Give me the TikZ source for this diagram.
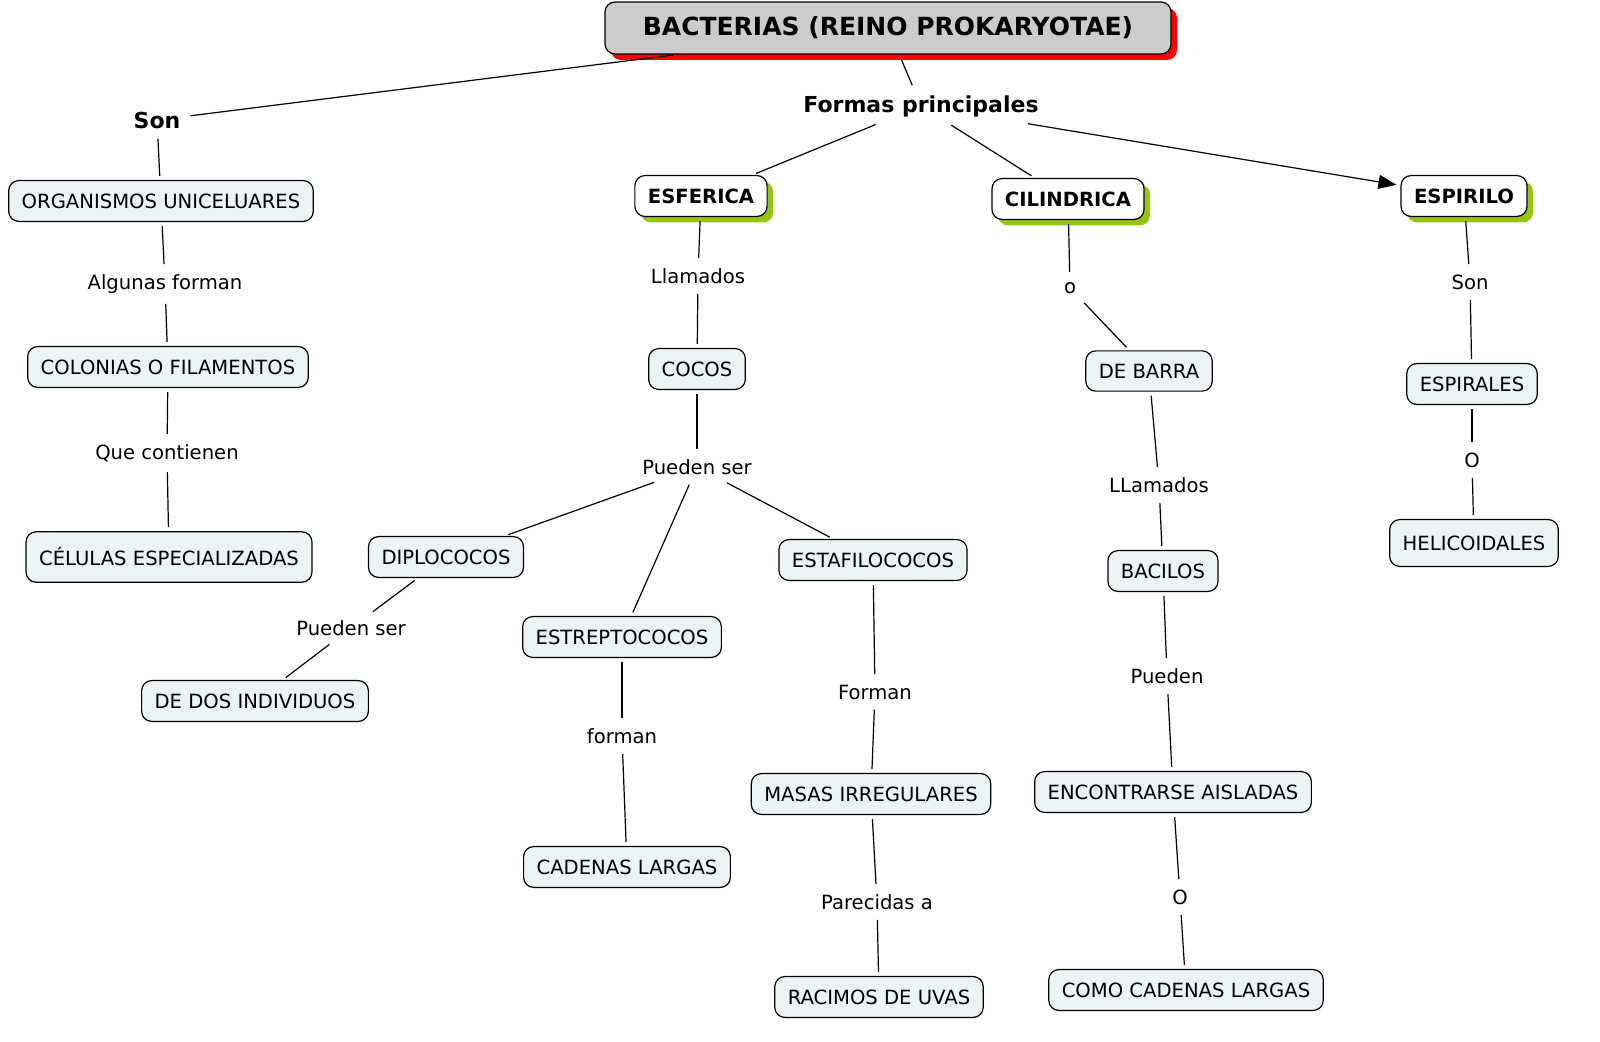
\documentclass[tikz,border=0pt]{standalone}
\usepackage{fontspec}
\setmainfont{DejaVu Sans}
\usetikzlibrary{shadows,arrows.meta}
\definecolor{boxfill}{RGB}{236,243,245}
\definecolor{gshadow}{RGB}{150,196,20}
\tikzset{
 cbox/.style={draw,rounded corners=5pt,fill=boxfill,font=\fontsize{9.8}{11}\selectfont,inner xsep=6.5pt,inner ysep=6.5pt,line width=0.6pt},
 gbox/.style={draw,rounded corners=5pt,fill=white,font=\bfseries\fontsize{9.8}{11}\selectfont,inner xsep=6.5pt,inner ysep=6.5pt,line width=0.6pt,
   drop shadow={shadow xshift=3pt,shadow yshift=-3pt,fill=gshadow,opacity=1}},
 lbl/.style={font=\fontsize{9.8}{11}\selectfont,inner sep=3pt,fill=white},
 con/.style={line width=0.6pt,shorten <=2pt,shorten >=2pt}
}
\begin{document}
\begin{tikzpicture}[x=0.5pt,y=-0.5pt]
\useasboundingbox (0,0) rectangle (1600,1042);
\node[draw,rounded corners=5pt,fill=gray!40,font=\bfseries\fontsize{12.5}{14}\selectfont,minimum width=283pt,minimum height=26pt,line width=0.6pt,
 drop shadow={shadow xshift=3pt,shadow yshift=-3pt,fill=red,opacity=1}] (t) at (888,28) {BACTERIAS (REINO PROKARYOTAE)};
\node[lbl,font=\bfseries\fontsize{11}{13}\selectfont] (son) at (157,120) {Son};
\node[lbl,font=\bfseries\fontsize{11}{13}\selectfont] (fp) at (921,106) {Formas principales};
\node[cbox] (org) at (161,201) {ORGANISMOS UNICELUARES};
\node[lbl] (l1) at (165,284) {Algunas forman};
\node[cbox] (col) at (168,367) {COLONIAS O FILAMENTOS};
\node[lbl] (l2) at (167,453) {Que contienen};
\node[cbox,inner ysep=8pt] (cel) at (169,557) {CÉLULAS ESPECIALIZADAS};
\node[gbox] (esf) at (701,196) {ESFERICA};
\node[gbox] (cil) at (1068,199) {CILINDRICA};
\node[gbox] (esp) at (1464,196) {ESPIRILO};
\node[lbl] (l3) at (698,276) {Llamados};
\node[cbox] (coc) at (697,369) {COCOS};
\node[lbl] (l4) at (697,467) {Pueden ser};
\node[cbox] (dip) at (446,557) {DIPLOCOCOS};
\node[cbox] (str) at (622,637) {ESTREPTOCOCOS};
\node[cbox] (sta) at (873,560) {ESTAFILOCOCOS};
\node[lbl] (l5) at (351,628) {Pueden ser};
\node[cbox] (dos) at (255,701) {DE DOS INDIVIDUOS};
\node[lbl] (l6) at (622,736) {forman};
\node[cbox] (cad) at (627,867) {CADENAS LARGAS};
\node[lbl] (l7) at (875,692) {Forman};
\node[cbox] (mas) at (871,794) {MASAS IRREGULARES};
\node[lbl] (l8) at (877,902) {Parecidas a};
\node[cbox] (rac) at (879,997) {RACIMOS DE UVAS};
\node[lbl] (l9) at (1070,288) {o};
\node[cbox] (bar) at (1149,371) {DE BARRA};
\node[lbl] (l10) at (1159,485) {LLamados};
\node[cbox] (bac) at (1163,571) {BACILOS};
\node[lbl] (l11) at (1167,676) {Pueden};
\node[cbox] (enc) at (1173,792) {ENCONTRARSE AISLADAS};
\node[lbl] (l12) at (1180,897) {O};
\node[cbox] (com) at (1186,990) {COMO CADENAS LARGAS};
\node[lbl] (l13) at (1470,282) {Son};
\node[cbox] (spi) at (1472,384) {ESPIRALES};
\node[lbl] (l14) at (1472,460) {O};
\node[cbox,inner ysep=8pt] (hel) at (1474,543) {HELICOIDALES};
\draw[con] (t) -- (son);
\draw[con] (t) -- (fp);
\draw[con] (fp) -- (esf);
\draw[con] (fp) -- (cil);
\draw[con,-{Triangle[length=9pt,width=7pt]}] (fp) -- (esp);
\foreach \a/\b in {son/org,org/l1,l1/col,col/l2,l2/cel,esf/l3,l3/coc,coc/l4,l4/dip,l4/str,l4/sta,dip/l5,l5/dos,str/l6,l6/cad,sta/l7,l7/mas,mas/l8,l8/rac,cil/l9,l9/bar,bar/l10,l10/bac,bac/l11,l11/enc,enc/l12,l12/com,esp/l13,l13/spi,spi/l14,l14/hel}
 \draw[con] (\a) -- (\b);
\end{tikzpicture}
\end{document}
